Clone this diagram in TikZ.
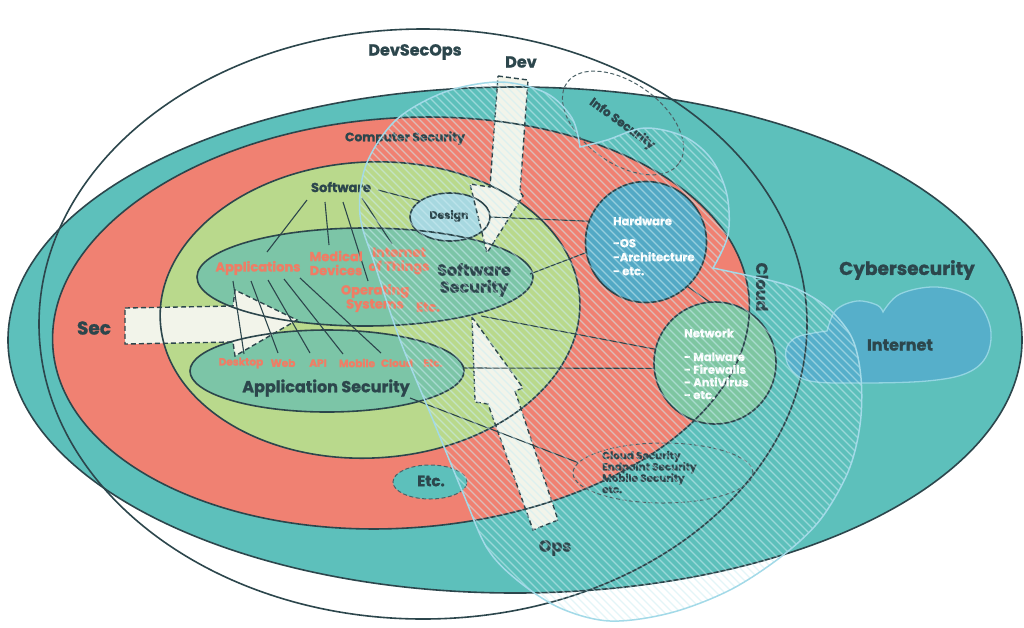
\documentclass[tikz,border=0pt]{standalone}
\usepackage{fontspec}
\setmainfont{Poppins}[BoldFeatures={FakeBold=1.2}]
\usetikzlibrary{shapes.geometric}
\definecolor{cyb}{HTML}{5DC0BB}
\definecolor{comp}{HTML}{F08172}
\definecolor{soft}{HTML}{B9D98C}
\definecolor{ssec}{HTML}{7CC5A7}
\definecolor{hwc}{HTML}{53A9C5}
\definecolor{desc}{HTML}{A7D8E0}
\definecolor{netc}{HTML}{7EC6A1}
\definecolor{inet}{HTML}{56AFCA}
\definecolor{inetedge}{HTML}{93D5E2}
\definecolor{dark}{HTML}{2C464C}
\definecolor{salm}{HTML}{EF7D65}
\definecolor{cream}{HTML}{F2F4EA}
\definecolor{cloudedge}{HTML}{A3DAE8}
\definecolor{hatchc}{HTML}{CDEDF3}
\newcommand\cloudshape{plot[smooth,tension=0.55] coordinates {(580,147) (607,140) (645,128) (685,137) (712,160) (727,195) (728,235) (713,268)} -- (760,278) -- plot[smooth,tension=0.55] coordinates {(760,278) (795,288) (828,308) (852,338) (861,378) (860,425) (848,472) (820,520) (782,556) (730,590) (670,613) (610,621) (560,608) (517,580) (487,548) (463,493) (433,420) (400,340) (375,265) (360,215) (366,165) (396,120) (445,92) (500,82) (546,93) (572,118) (580,147)} -- cycle}
\newcommand\inetshape{plot[smooth,tension=0.6] coordinates {(883,312) (900,294) (937,287) (973,298) (990,326) (987,355) (967,373) (927,381) (860,383) (810,381) (790,368) (786,350) (797,337) (827,331)} -- plot[smooth,tension=0.6] coordinates {(827,331) (836,310) (857,301) (877,305) (883,312)} -- cycle}
\begin{document}
\begin{tikzpicture}[x=1pt,y=-1pt,
  outl/.style={draw=dark, line width=1.6pt},
  conn/.style={draw=dark, line width=1.1pt},
  arrowbox/.style={fill=cream, draw=dark, line width=1.4pt, dash pattern=on 5pt off 3pt},
  dashell/.style={draw=dark!85, line width=1pt, dash pattern=on 4pt off 2.5pt},
  lbl/.style={inner sep=0pt, text=dark, align=center},
  fA/.style={font=\bfseries\fontsize{18.5}{22}\selectfont},
  fB/.style={font=\bfseries\fontsize{16}{17}\selectfont},
  fC/.style={font=\bfseries\fontsize{12.3}{14}\selectfont},
  fD/.style={font=\bfseries\fontsize{13}{15}\selectfont},
  fE/.style={font=\bfseries\fontsize{11}{13}\selectfont},
  fW/.style={font=\bfseries\fontsize{11.5}{14}\selectfont},
  fN/.style={font=\bfseries\fontsize{11.5}{12.7}\selectfont},
  fS/.style={font=\bfseries\fontsize{13}{14}\selectfont},
  fT/.style={font=\bfseries\fontsize{10.5}{12}\selectfont},
  fG/.style={font=\bfseries\fontsize{15}{17}\selectfont},
  fH/.style={font=\bfseries\fontsize{16}{18}\selectfont},
  fI/.style={font=\bfseries\fontsize{12}{14}\selectfont},
  fK/.style={font=\bfseries\fontsize{10.4}{11.3}\selectfont}]
\useasboundingbox (0,0) rectangle (1024,627);
\fill[white] (0,0) rectangle (1024,627);
% ---------- fills
\fill[cyb] (515,340) ellipse [x radius=507pt, y radius=253pt];
\fill[comp, rotate around={4:(401,323)}] (401,323) ellipse [x radius=349pt, y radius=205pt];
\fill[soft, rotate around={3:(370,310)}] (370,310) ellipse [x radius=210pt, y radius=148pt];
\fill[ssec] (365,277) ellipse [x radius=168pt, y radius=49pt];
\fill[ssec] (327,371) ellipse [x radius=137pt, y radius=41pt];
\node[ellipse, fill=desc, minimum width=80pt, minimum height=48pt, inner sep=0pt] (design) at (450,217) {};
\node[circle, fill=hwc, minimum size=121pt, inner sep=0pt] (hw) at (646,242) {};
\node[circle, fill=netc, minimum size=122pt, inner sep=0pt] (net) at (715,363) {};
\node[ellipse, fill=cyb, minimum width=74pt, minimum height=34pt, inner sep=0pt] (etcell) at (430,482) {};
\fill[inet] \inetshape;
% ---------- arrows
\path[arrowbox] (125,308) -- (233,306) -- (235,290) -- (297,320) -- (235,356) -- (233,342) -- (125,344) -- cycle;
\path[arrowbox] (498,76) -- (528,80) -- (520,192) -- (523,196) -- (487,253) -- (470,184) -- (490,187) -- cycle;
\path[arrowbox] (472,317) -- (523,388) -- (515,391) -- (558,520) -- (533,530) -- (488,404) -- (475,402) -- cycle;
% ---------- outlines
\draw[outl] (515,340) ellipse [x radius=507pt, y radius=253pt];
\draw[outl] (423,324) ellipse [x radius=384pt, y radius=295pt];
\draw[outl, rotate around={4:(401,323)}] (401,323) ellipse [x radius=349pt, y radius=205pt];
\draw[outl, rotate around={3:(370,310)}] (370,310) ellipse [x radius=210pt, y radius=148pt];
\draw[outl] (365,277) ellipse [x radius=168pt, y radius=49pt];
\draw[outl] (327,371) ellipse [x radius=137pt, y radius=41pt];
\draw[outl] (design.center) ellipse [x radius=40pt, y radius=24pt];
\draw[outl] (hw.center) circle [radius=60.5pt];
\draw[outl] (net.center) circle [radius=61pt];
\draw[inetedge, line width=1.3pt] \inetshape;
\draw[dashell] (etcell.center) ellipse [x radius=37pt, y radius=17pt];
\node[ellipse, dashell, minimum width=180pt, minimum height=60pt, inner sep=0pt] (cloudsec) at (663,473) {};
\node[ellipse, dashell, minimum width=138pt, minimum height=80pt, inner sep=0pt, rotate=-36] (infoell) at (623,123) {};
% ---------- connector end points
\coordinate (swa) at (307,200); \coordinate (appa) at (267,252);
\coordinate (swb) at (325,202); \coordinate (meda) at (329,245);
\coordinate (swc) at (343,202); \coordinate (osa) at (368,281);
\coordinate (swd) at (362,198); \coordinate (iota) at (392,244);
\coordinate (swe) at (378,190);
\coordinate (ap1) at (233,281); \coordinate (dk1) at (244,354);
\coordinate (ap2) at (251,281); \coordinate (wb1) at (278,353);
\coordinate (ap3) at (268,280); \coordinate (ai1) at (310,353);
\coordinate (ap4) at (284,279); \coordinate (mb1) at (343,354);
\coordinate (ap5) at (300,278); \coordinate (cl1) at (381,353);
\coordinate (ssr) at (530,274);
\coordinate (ssn) at (481,316);
\coordinate (asn) at (463,368);
\coordinate (asc) at (410,398);
% ---------- connectors
\draw[conn] (swa) -- (appa);
\draw[conn] (swb) -- (meda);
\draw[conn] (swc) -- (osa);
\draw[conn] (swd) -- (iota);
\draw[conn] (swe) -- (design.152);
\draw[conn] (ap1) -- (dk1);
\draw[conn] (ap2) -- (wb1);
\draw[conn] (ap3) -- (ai1);
\draw[conn] (ap4) -- (mb1);
\draw[conn] (ap5) -- (cl1);
\draw[conn] (design.east) -- (hw.160);
\draw[conn] (ssr) -- (hw.190);
\draw[conn] (ssn) -- (net.167);
\draw[conn] (asn) -- (net.185);
\draw[conn] (asc) -- (cloudsec.173);
\draw[conn] (hw.-47) -- (net.95);
% ---------- texts
\node[lbl,fB] (devsecops) at (415,52) {DevSecOps};
\node[lbl,fB] (dev) at (521,62) {Dev};
\node[lbl,fC] (compsec) at (405,138) {Computer Security};
\node[lbl,fD] (sw) at (341,187) {Software};
\node[lbl,fE] (designt) at (449,216) {Design};
\node[lbl,fW,text=white,align=left,anchor=west] (hwt) at (613,246) {Hardware\\[8pt]-OS\\-Architecture\\- etc.};
\node[lbl,fN,text=white,align=left,anchor=west] (nett) at (684,364) {Network\\[11pt]- Malware\\- Firewalls\\- AntiVirus\\- etc.};
\node[lbl,fS,text=salm] (apps) at (258,268) {Applications};
\node[lbl,fS,text=salm] (med) at (336,263) {Medical\\Devices};
\node[lbl,fS,text=salm] (iot) at (399,261) {Internet\\of Things};
\node[lbl,fS,text=salm] (opsys) at (375,298) {Operating\\Systems};
\node[lbl,fS,text=salm] (etca) at (428,307) {Etc.};
\node[lbl,fB] (sst) at (474,280) {Software\\Security};
\node[lbl,fA] (sec) at (94,328) {Sec};
\node[lbl,fT,text=salm] (dk) at (241,363) {Desktop};
\node[lbl,fT,text=salm] (web) at (283,363) {Web};
\node[lbl,fT,text=salm] (api) at (318,363) {API};
\node[lbl,fT,text=salm] (mob) at (357,363) {Mobile};
\node[lbl,fT,text=salm] (cld) at (397,363) {Cloud};
\node[lbl,fT,text=salm] (etcb) at (433,363) {Etc.};
\node[lbl,fB] (appsect) at (326,388) {Application Security};
\node[lbl,fG] (etcc) at (431,481) {Etc.};
\node[lbl,fB] (opst) at (555,548) {Ops};
\node[lbl,fA] (cyber) at (907,270) {Cybersecurity};
\node[lbl,fH] (internet) at (900,345) {Internet};
\node[lbl,fH,rotate=-90] (cloudt) at (762,287) {Cloud};
\node[lbl,fI,rotate=-36] (infot) at (622,124) {Info Security};
\node[lbl,fK,align=left,anchor=west] (cst) at (602,472) {Cloud Security\\Endpoint Security\\Mobile Security\\etc.};
% ---------- cloud hatch
\begin{scope}
\clip \cloudshape;
\foreach \i in {-240,-232,...,880} \draw[hatchc, line width=1.3pt, opacity=0.55] (\i,60) -- ++(580,580);
\end{scope}
\draw[cloudedge, line width=1.5pt] \cloudshape;
\end{tikzpicture}
\end{document}
